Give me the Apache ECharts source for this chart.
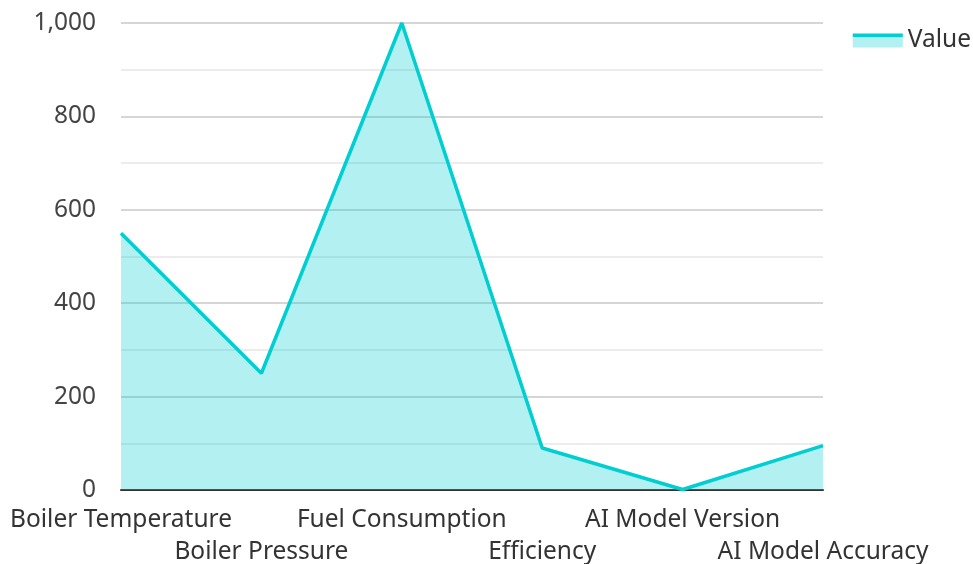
<!DOCTYPE html>
<html><head><meta charset="utf-8">
<script src="https://cdn.jsdelivr.net/npm/echarts@6/dist/echarts.min.js"></script>
<style>html,body{margin:0;padding:0;background:#fff}#c{width:973px;height:564px}</style>
</head><body><div id="c"></div>
<script>
const categories = ["Boiler Temperature","Boiler Pressure","Fuel Consumption","Efficiency","AI Model Version","AI Model Accuracy"];
const values = [550, 250, 1000, 90, 1, 95];
const seriesName = "Value";

const chart = echarts.init(document.getElementById('c'));
chart.setOption({
  animation: false,
  textStyle: {fontFamily: 'Noto Sans'},
  legend: {
    right: -3, top: 23, itemWidth: 50, itemHeight: 14, itemGap: 10,
    icon: 'rect',
    itemStyle: {
      borderWidth: 0,
      color: new echarts.graphic.LinearGradient(0, 0, 0, 1, [
        {offset: 0, color: '#00CED1'}, {offset: 0.25, color: '#00CED1'},
        {offset: 0.25, color: '#B2F0F1'}, {offset: 1, color: '#B2F0F1'}
      ])
    },
    textStyle: {fontSize: 24.5, color: '#333', fontFamily: 'Noto Sans', padding: [0, 0, 14, 0]},
    data: [seriesName]
  },
  grid: {left: 121, right: 150, top: 23, bottom: 74, outerBoundsMode: 'none', containLabel: false},
  xAxis: {
    type: 'category', data: categories, boundaryGap: false,
    axisLine: {lineStyle: {color: '#333', width: 2}},
    axisTick: {show: false},
    axisLabel: {
      interval: 0, fontSize: 24.5, color: '#333', margin: 14, lineHeight: 32,
      fontFamily: 'Noto Sans',
      formatter: function (v, i) { return i % 2 ? '\n' + v : v; }
    }
  },
  yAxis: {
    type: 'value', min: 0, max: 1000, interval: 200,
    axisLabel: {fontSize: 24.5, color: '#444', margin: 25, fontFamily: 'Noto Sans',
      formatter: function (v) { return v.toLocaleString('en-US'); }},
    axisLine: {show: false}, axisTick: {show: false},
    splitLine: {lineStyle: {color: '#c8c8c8', width: 1.5}},
    minorTick: {show: false, splitNumber: 2},
    minorSplitLine: {show: true, lineStyle: {color: '#e6e6e6', width: 1.5}}
  },
  series: [{
    name: seriesName, type: 'line', data: values,
    showSymbol: false, symbol: 'none',
    lineStyle: {color: '#00CED1', width: 3.5},
    itemStyle: {color: '#00CED1'},
    areaStyle: {color: '#00CED1', opacity: 0.3}
  }]
});
</script></body></html>
